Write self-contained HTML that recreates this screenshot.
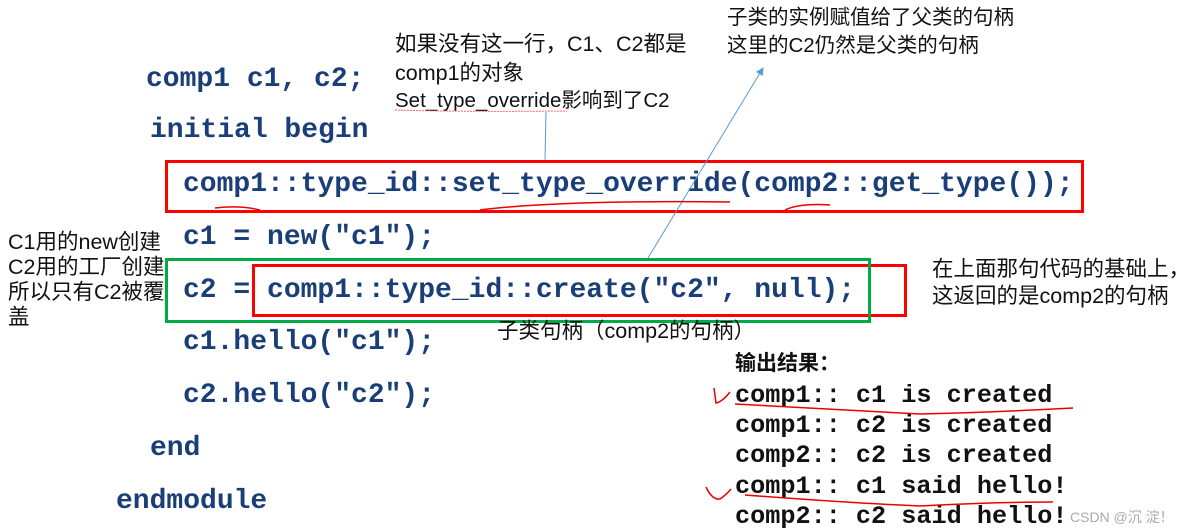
<!DOCTYPE html>
<html><head><meta charset="utf-8"><style>
body{margin:0;width:1191px;height:531px;background:#fff;position:relative;overflow:hidden;font-family:"Liberation Sans","Noto Sans CJK SC",sans-serif}
.c{position:absolute;font-family:"Liberation Mono",monospace;font-weight:bold;color:#1a3f78;font-size:28px;line-height:32px;white-space:pre}
.o{position:absolute;font-family:"Liberation Mono",monospace;font-weight:bold;color:#111;font-size:25.2px;line-height:28px;white-space:pre;left:735px}
.t{position:absolute;font-size:21.5px;line-height:25px;color:#111;white-space:pre}
.box{position:absolute;box-sizing:border-box}
</style></head><body>
<div class="c" style="left:146px;top:64px">comp1 c1, c2;</div>
<div class="c" style="left:150px;top:115px">initial begin</div>
<div class="c" style="left:183px;top:169px">comp1::type_id::set_type_override(comp2::get_type());</div>
<div class="c" style="left:183px;top:222px">c1 = new("c1");</div>
<div class="c" style="left:183px;top:275px">c2 = comp1::type_id::create("c2", null);</div>
<div class="c" style="left:183px;top:327px">c1.hello("c1");</div>
<div class="c" style="left:183px;top:380px">c2.hello("c2");</div>
<div class="c" style="left:150px;top:433px">end</div>
<div class="c" style="left:116px;top:486px">endmodule</div>

<div class="box" style="left:165px;top:160px;width:919px;height:53px;border:3px solid #f00"></div>
<div class="box" style="left:252px;top:264px;width:655px;height:53px;border:3px solid #f00"></div>
<div class="box" style="left:165px;top:258px;width:706px;height:65px;border:3px solid #0a4"></div>

<div class="t" style="left:395px;top:32px">如果没有这一行，C1、C2都是</div>
<div class="t" style="left:395px;top:61px">comp1的对象</div>
<div class="t" style="left:395px;top:88px;font-size:20.5px">Set_type_override影响到了C2</div>
<div class="t" style="left:727px;top:5px;font-size:20.5px">子类的实例赋值给了父类的句柄</div>
<div class="t" style="left:727px;top:33px;font-size:20.5px">这里的C2仍然是父类的句柄</div>
<div class="t" style="left:8px;top:230px">C1用的new创建
C2用的工厂创建
所以只有C2被覆
盖</div>
<div class="t" style="left:932px;top:257px">在上面那句代码的基础上，</div>
<div class="t" style="left:932px;top:284px">这返回的是comp2的句柄</div>
<div class="t" style="left:497px;top:319px">子类句柄（comp2的句柄）</div>
<div class="t" style="left:735px;top:351px;font-weight:bold;font-size:21px">输出结果：</div>

<div class="o" style="left:735px;top:382px">comp1:: c1 is created</div>
<div class="o" style="left:735px;top:412px">comp1:: c2 is created</div>
<div class="o" style="left:735px;top:442px">comp2:: c2 is created</div>
<div class="o" style="left:735px;top:473px">comp1:: c1 said hello!</div>
<div class="o" style="left:735px;top:503px">comp2:: c2 said hello!</div>
<div style="position:absolute;left:1070px;top:507px;font-size:14px;color:#aaa">CSDN @沉 淀！</div>

<svg width="1191" height="531" style="position:absolute;left:0;top:0">
<defs><marker id="a" markerWidth="8" markerHeight="8" refX="7" refY="4" orient="auto"><path d="M0,0 L8,4 L0,8z" fill="#5b9bd5"/></marker></defs>
<line x1="545" y1="160" x2="546" y2="112" stroke="#5b9bd5" stroke-width="1"/>
<line x1="648" y1="258" x2="763" y2="68" stroke="#5b9bd5" stroke-width="1" marker-end="url(#a)"/>
<path d="M395 110 Q460 112 567 111" stroke="#f66" stroke-width="1" stroke-dasharray="2,1" fill="none"/>
<g stroke="#e00" stroke-width="1.5" fill="none">
<path d="M215 208 Q240 205 260 210"/>
<path d="M480 210 Q560 200 730 202"/>
<path d="M785 210 Q800 203 830 205"/>
<path d="M735 404 Q850 410 920 414 Q1000 412 1073 408"/>
<path d="M745 495 Q850 503 920 506 Q990 502 1053 502"/>
<path d="M714 388 L716 403 Q722 402 730 392"/>
<path d="M706 487 Q712 500 720 499 Q726 495 731 489"/>
</g>
</svg>
</body></html>
